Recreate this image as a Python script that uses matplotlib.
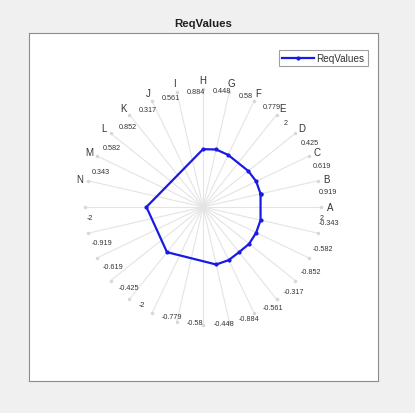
import numpy as np
import matplotlib.pyplot as plt

plt.rcParams['font.family'] = ['Liberation Sans', 'DejaVu Sans']

# axis names (upper half spokes) and their limit labels
letters = list('ABCDEFGHIJKLMN')
upper_vals = [2, 0.919, 0.619, 0.425, 2, 0.779, 0.58, 0.448,
              0.884, 0.561, 0.317, 0.852, 0.582, 0.343]
lower_vals = [-v for v in upper_vals]

# plotted radius on each of the 28 spokes (fraction of spoke length), None = no point
req_values = [None, 0.50, 0.50, 0.49, None, 0.49, 0.50, 0.49,
              None, None, None, None, None, None,
              0.48, None, None, None, 0.49, None, None,
              None, 0.50, 0.50, 0.49, 0.50, 0.50, 0.50]

n = len(req_values)
ang = np.arange(n) * 2 * np.pi / n

fig = plt.figure(figsize=(4.15, 4.14), dpi=100, facecolor='#f0f0f0')
ax = fig.add_axes([0.0699, 0.0773, 0.841, 0.8406])
ax.set_facecolor('white')

# spokes
for a in ang:
    ax.plot([0, np.cos(a)], [0, np.sin(a)], color='#e4e4e4', lw=0.8, zorder=1)
    ax.plot(np.cos(a), np.sin(a), 'o', color='#d8d8d8', ms=1.5, zorder=1)

# letter labels
for i, lab in enumerate(letters):
    a = ang[i]
    ax.text(1.075 * np.cos(a), 1.075 * np.sin(a), lab, ha='center', va='center',
            fontsize=7, color='#333333')

# limit labels
tick_labels = upper_vals + lower_vals
for k, v in enumerate(tick_labels):
    off = -np.deg2rad(5) if k < 14 else np.deg2rad(5)
    a = ang[k] + off
    ax.text(0.99 * np.cos(a), 0.99 * np.sin(a), f'{v:g}', ha='left', va='center',
            fontsize=5.2, color='#333333')

# data polygon
idx = [k for k, v in enumerate(req_values) if v is not None]
r = np.array([req_values[k] for k in idx])
xs = r * np.cos(ang[idx])
ys = r * np.sin(ang[idx])
xs = np.append(xs, xs[0])
ys = np.append(ys, ys[0])
ax.plot(xs, ys, '-o', color='#1a1ae6', lw=1.6, ms=2, label='ReqValues', zorder=3)

ax.set_xlim(-1.475, 1.483)
ax.set_ylim(-1.475, 1.475)
ax.set_xticks([])
ax.set_yticks([])
for s in ax.spines.values():
    s.set_color('#8c8c8c')
    s.set_linewidth(0.8)

ax.set_title('ReqValues', fontsize=8.2, fontweight='bold', color='#202020', pad=5)
leg = ax.legend(loc='upper right', bbox_to_anchor=(0.97, 0.95), fontsize=7.2,
                fancybox=False, framealpha=1, edgecolor='#a0a0a0',
                handlelength=3.2, borderpad=0.3, handletextpad=0.3,
                borderaxespad=0)
leg.get_frame().set_linewidth(0.8)
for t in leg.get_texts():
    t.set_color('#333333')

fig.savefig('out.png', dpi=100, facecolor=fig.get_facecolor())
